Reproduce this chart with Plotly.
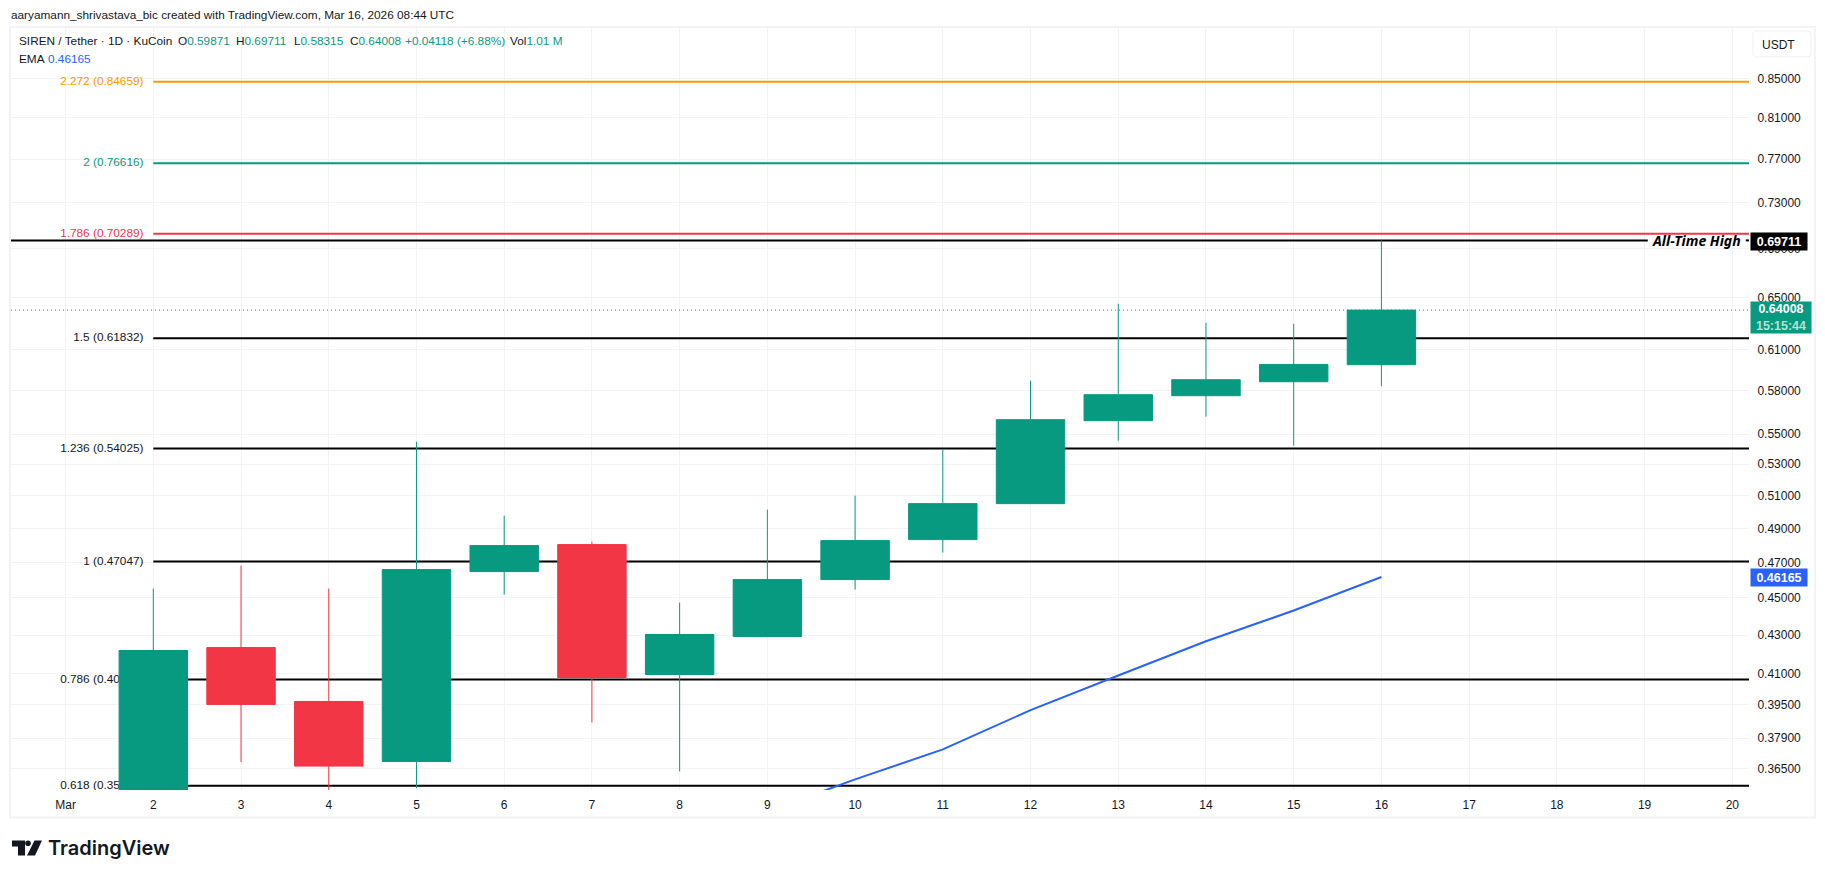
import math
import plotly.graph_objects as go

# daily candles, March 2026
dates = ['2026-03-%02d' % d for d in range(2, 17)]
opens = [0.35000, 0.42349, 0.39642, 0.36837, 0.46475, 0.48036, 0.40973, 0.42923,
         0.46022, 0.48330, 0.50506, 0.55903, 0.57640, 0.58635, 0.59871]
highs = [0.45518, 0.46817, 0.45518, 0.54486, 0.49770, 0.48212, 0.44746, 0.50137,
         0.51003, 0.53955, 0.58707, 0.64506, 0.63024, 0.62947, 0.69711]
lows = [0.34500, 0.36806, 0.35400, 0.35654, 0.45185, 0.38637, 0.36389, 0.42923,
        0.45463, 0.47568, 0.50506, 0.54552, 0.56177, 0.54220, 0.58315]
closes = [0.42194, 0.39497, 0.36627, 0.46589, 0.47977, 0.40823, 0.43028, 0.46022,
          0.48271, 0.50506, 0.55972, 0.57710, 0.58779, 0.59890, 0.64008]

ema_dates = ['2026-03-%02d' % d for d in range(9, 17)]
ema = [0.34652, 0.36035, 0.37382, 0.39223, 0.40924, 0.42678, 0.44310, 0.46165]

fib_ratios = ['2.272', '2', '1.786', '1.5', '1.236', '1', '0.786', '0.618']
fib_prices = [0.84659, 0.76616, 0.70289, 0.61832, 0.54025, 0.47047, 0.40719, 0.35752]
fib_colors = ['#ff9800', '#089981', '#f23645', '#000000', '#000000', '#000000', '#000000', '#000000']
fib_text = ['#ff9800', '#089981', '#f23645', '#131722', '#131722', '#131722', '#131722', '#131722']

ath = 0.69711
last = 0.64008

price_ticks = [0.85, 0.81, 0.77, 0.73, 0.69, 0.65, 0.61, 0.58, 0.55, 0.53, 0.51,
               0.49, 0.47, 0.45, 0.43, 0.41, 0.395, 0.379, 0.365]
day_ticks = ['2026-03-%02d' % d for d in range(1, 21)]
day_labels = ['Mar'] + [str(d) for d in range(2, 21)]

# px positions on the page, the body adds its own margin
W, H = 1825, 879
OFF = 8
L, R, T, B = 11 - OFF, 1749 - OFF, 28 - OFF, 790.5 - OFF
x_start, x_end = '2026-02-28 09:04', '2026-03-20 04:34'
y_range = [math.log10(0.35571), math.log10(0.9041)]

GREEN, RED, BLUE, INK = '#089981', '#f23645', '#2962ff', '#131722'
FONT = 'Liberation Sans'


def px(x):
    return (x - OFF - L) / (R - L)


def py(y):
    return (B - (y - OFF)) / (B - T)


fig = go.Figure()

# levels live on the main y axis, candles on an overlay so they cover them
for ratio, price, color, tcolor in zip(fib_ratios, fib_prices, fib_colors, fib_text):
    fig.add_trace(go.Scatter(x=['2026-03-02', x_end], y=[price, price], mode='lines+text',
                             line=dict(color=color, width=2), cliponaxis=True,
                             text=['%s (%.5f)\u00a0\u00a0\u00a0' % (ratio, price), ''],
                             textposition='middle left',
                             textfont=dict(color=tcolor, size=11.8, family=FONT)))

fig.add_trace(go.Scatter(x=[x_start, x_end], y=[last, last], mode='lines',
                         line=dict(color=GREEN, width=1, dash='1px,3px')))
fig.add_trace(go.Scatter(x=[x_start, '2026-03-19 00:53', None, '2026-03-20 03:42', x_end],
                         y=[ath, ath, None, ath, ath], mode='lines',
                         line=dict(color='#000000', width=2)))
fig.add_trace(go.Scatter(x=ema_dates, y=ema, mode='lines', line=dict(color=BLUE, width=2)))

fig.add_trace(go.Candlestick(x=dates, open=opens, high=highs, low=lows, close=closes, yaxis='y2',
                             increasing=dict(line=dict(color=GREEN, width=1), fillcolor=GREEN),
                             decreasing=dict(line=dict(color=RED, width=1), fillcolor=RED)))


def note(x, y, text, color=INK, size=11.8, anchor='left', **kw):
    fam = kw.pop('family', FONT)
    return dict(x=px(x), y=py(y), xref='paper', yref='paper', text=text, showarrow=False,
                xanchor=anchor, yanchor='middle', font=dict(color=color, size=size, family=fam), **kw)


notes = [
    note(9, 15, 'aaryamann_shrivastava_bic created with TradingView.com, Mar 16, 2026 08:44 UTC'),
    note(17, 41.5, 'SIREN / Tether · 1D · KuCoin'),
    note(17, 59, 'EMA'),
    note(46, 59, '%.5f' % ema[-1], BLUE),
    note(1760, 45, 'USDT', size=12),
    note(1650, 241, '<b><i>All-Time High</i></b>', '#000000', 14, family='Noto Sans'),
    note(1750, 241.5, '<b>%.5f</b>' % ath, '#ffffff', 12.5, bgcolor='#000000', width=56, height=17, borderpad=0),
    note(1750, 318, '<b>%.5f</b><br><span style="color:#b5e0d8"><b>15:15:44</b></span>' % last, '#ffffff', 12.5,
         bgcolor=GREEN, width=60, height=31, borderpad=0),
    note(1750, 578, '<b>%.5f</b>' % ema[-1], '#ffffff', 12.5, bgcolor=BLUE, width=56, height=17, borderpad=0),
    dict(x=px(46), y=py(849), xref='paper', yref='paper', text='TradingView', showarrow=False,
         xanchor='left', yanchor='middle', font=dict(color='#131722', size=20, family='Inter', weight=600)),
]

ohlc_x = [176, 234, 292, 348]
for x, label, value in zip(ohlc_x, 'OHLC', [opens[-1], highs[-1], lows[-1], closes[-1]]):
    notes.append(note(x, 41.5, '%s<span style="color:%s">%.5f</span>' % (label, GREEN, value)))
notes.append(note(403, 41.5, '+0.04118 (+6.88%)', GREEN))
notes.append(note(508, 41.5, 'Vol<span style="color:%s">1.01 M</span>' % GREEN))


def rounded(x0, y0, x1, y1, r):
    return ('M%f,%f L%f,%f Q%f,%f %f,%f L%f,%f Q%f,%f %f,%f L%f,%f Q%f,%f %f,%f L%f,%f Q%f,%f %f,%f Z' % (
        px(x0 + r), py(y0), px(x1 - r), py(y0), px(x1), py(y0), px(x1), py(y0 + r),
        px(x1), py(y1 - r), px(x1), py(y1), px(x1 - r), py(y1),
        px(x0 + r), py(y1), px(x0), py(y1), px(x0), py(y1 - r),
        px(x0), py(y0 + r), px(x0), py(y0), px(x0 + r), py(y0)))


def poly(points):
    return 'M' + ' L'.join('%f,%f' % (px(a), py(b)) for a, b in points) + ' Z'


shapes = [
    # outer frame and the USDT button
    dict(type='rect', xref='paper', yref='paper', x0=px(10), x1=px(1815), y0=py(818), y1=py(27),
         line=dict(color='#f3f3f4', width=2), layer='below'),
    dict(type='path', xref='paper', yref='paper', path=rounded(1753, 31, 1811, 57, 4),
         line=dict(color='#f0f0f2', width=1), fillcolor='#ffffff'),
    # logo
    dict(type='path', xref='paper', yref='paper', fillcolor='#131722', line=dict(width=0),
         path=poly([(12, 841), (25, 841), (25, 856), (18, 856), (18, 847), (12, 847)])),
    dict(type='path', xref='paper', yref='paper', fillcolor='#131722', line=dict(width=0),
         path=poly([(34.5, 841), (42, 841), (35, 856), (27, 856)])),
    dict(type='circle', xref='paper', yref='paper', fillcolor='#131722', line=dict(width=0),
         x0=px(25.2), x1=px(30.8), y0=py(846.6), y1=py(841)),
]

grid = '#f2f3f5'
fig.update_layout(
    width=W - OFF, height=H - OFF, autosize=False, showlegend=False,
    paper_bgcolor='#ffffff', plot_bgcolor='#ffffff', boxgap=0.22, boxgroupgap=0,
    margin=dict(l=L, r=W - OFF - R, t=T, b=H - OFF - B, autoexpand=False),
    font=dict(family=FONT, color=INK, size=12),
    annotations=notes, shapes=shapes,
    xaxis=dict(type='date', range=[x_start, x_end], tickmode='array', tickvals=day_ticks, ticktext=day_labels,
               showgrid=True, gridcolor=grid, gridwidth=1, zeroline=False, showline=False, tickangle=0,
               ticks='outside', ticklen=4, tickcolor='rgba(0,0,0,0)', rangeslider=dict(visible=False),
               tickfont=dict(size=12, color=INK)),
    yaxis=dict(type='log', side='right', range=y_range, tickmode='array', tickvals=price_ticks,
               ticktext=['%.5f' % t for t in price_ticks], showgrid=True, gridcolor=grid, gridwidth=1,
               zeroline=False, showline=False, ticks='outside', ticklen=5, tickcolor='rgba(0,0,0,0)',
               tickfont=dict(size=12, color=INK)),
    yaxis2=dict(type='log', overlaying='y', side='right', range=y_range, visible=False, showgrid=False),
)

fig.write_html("out.html")
